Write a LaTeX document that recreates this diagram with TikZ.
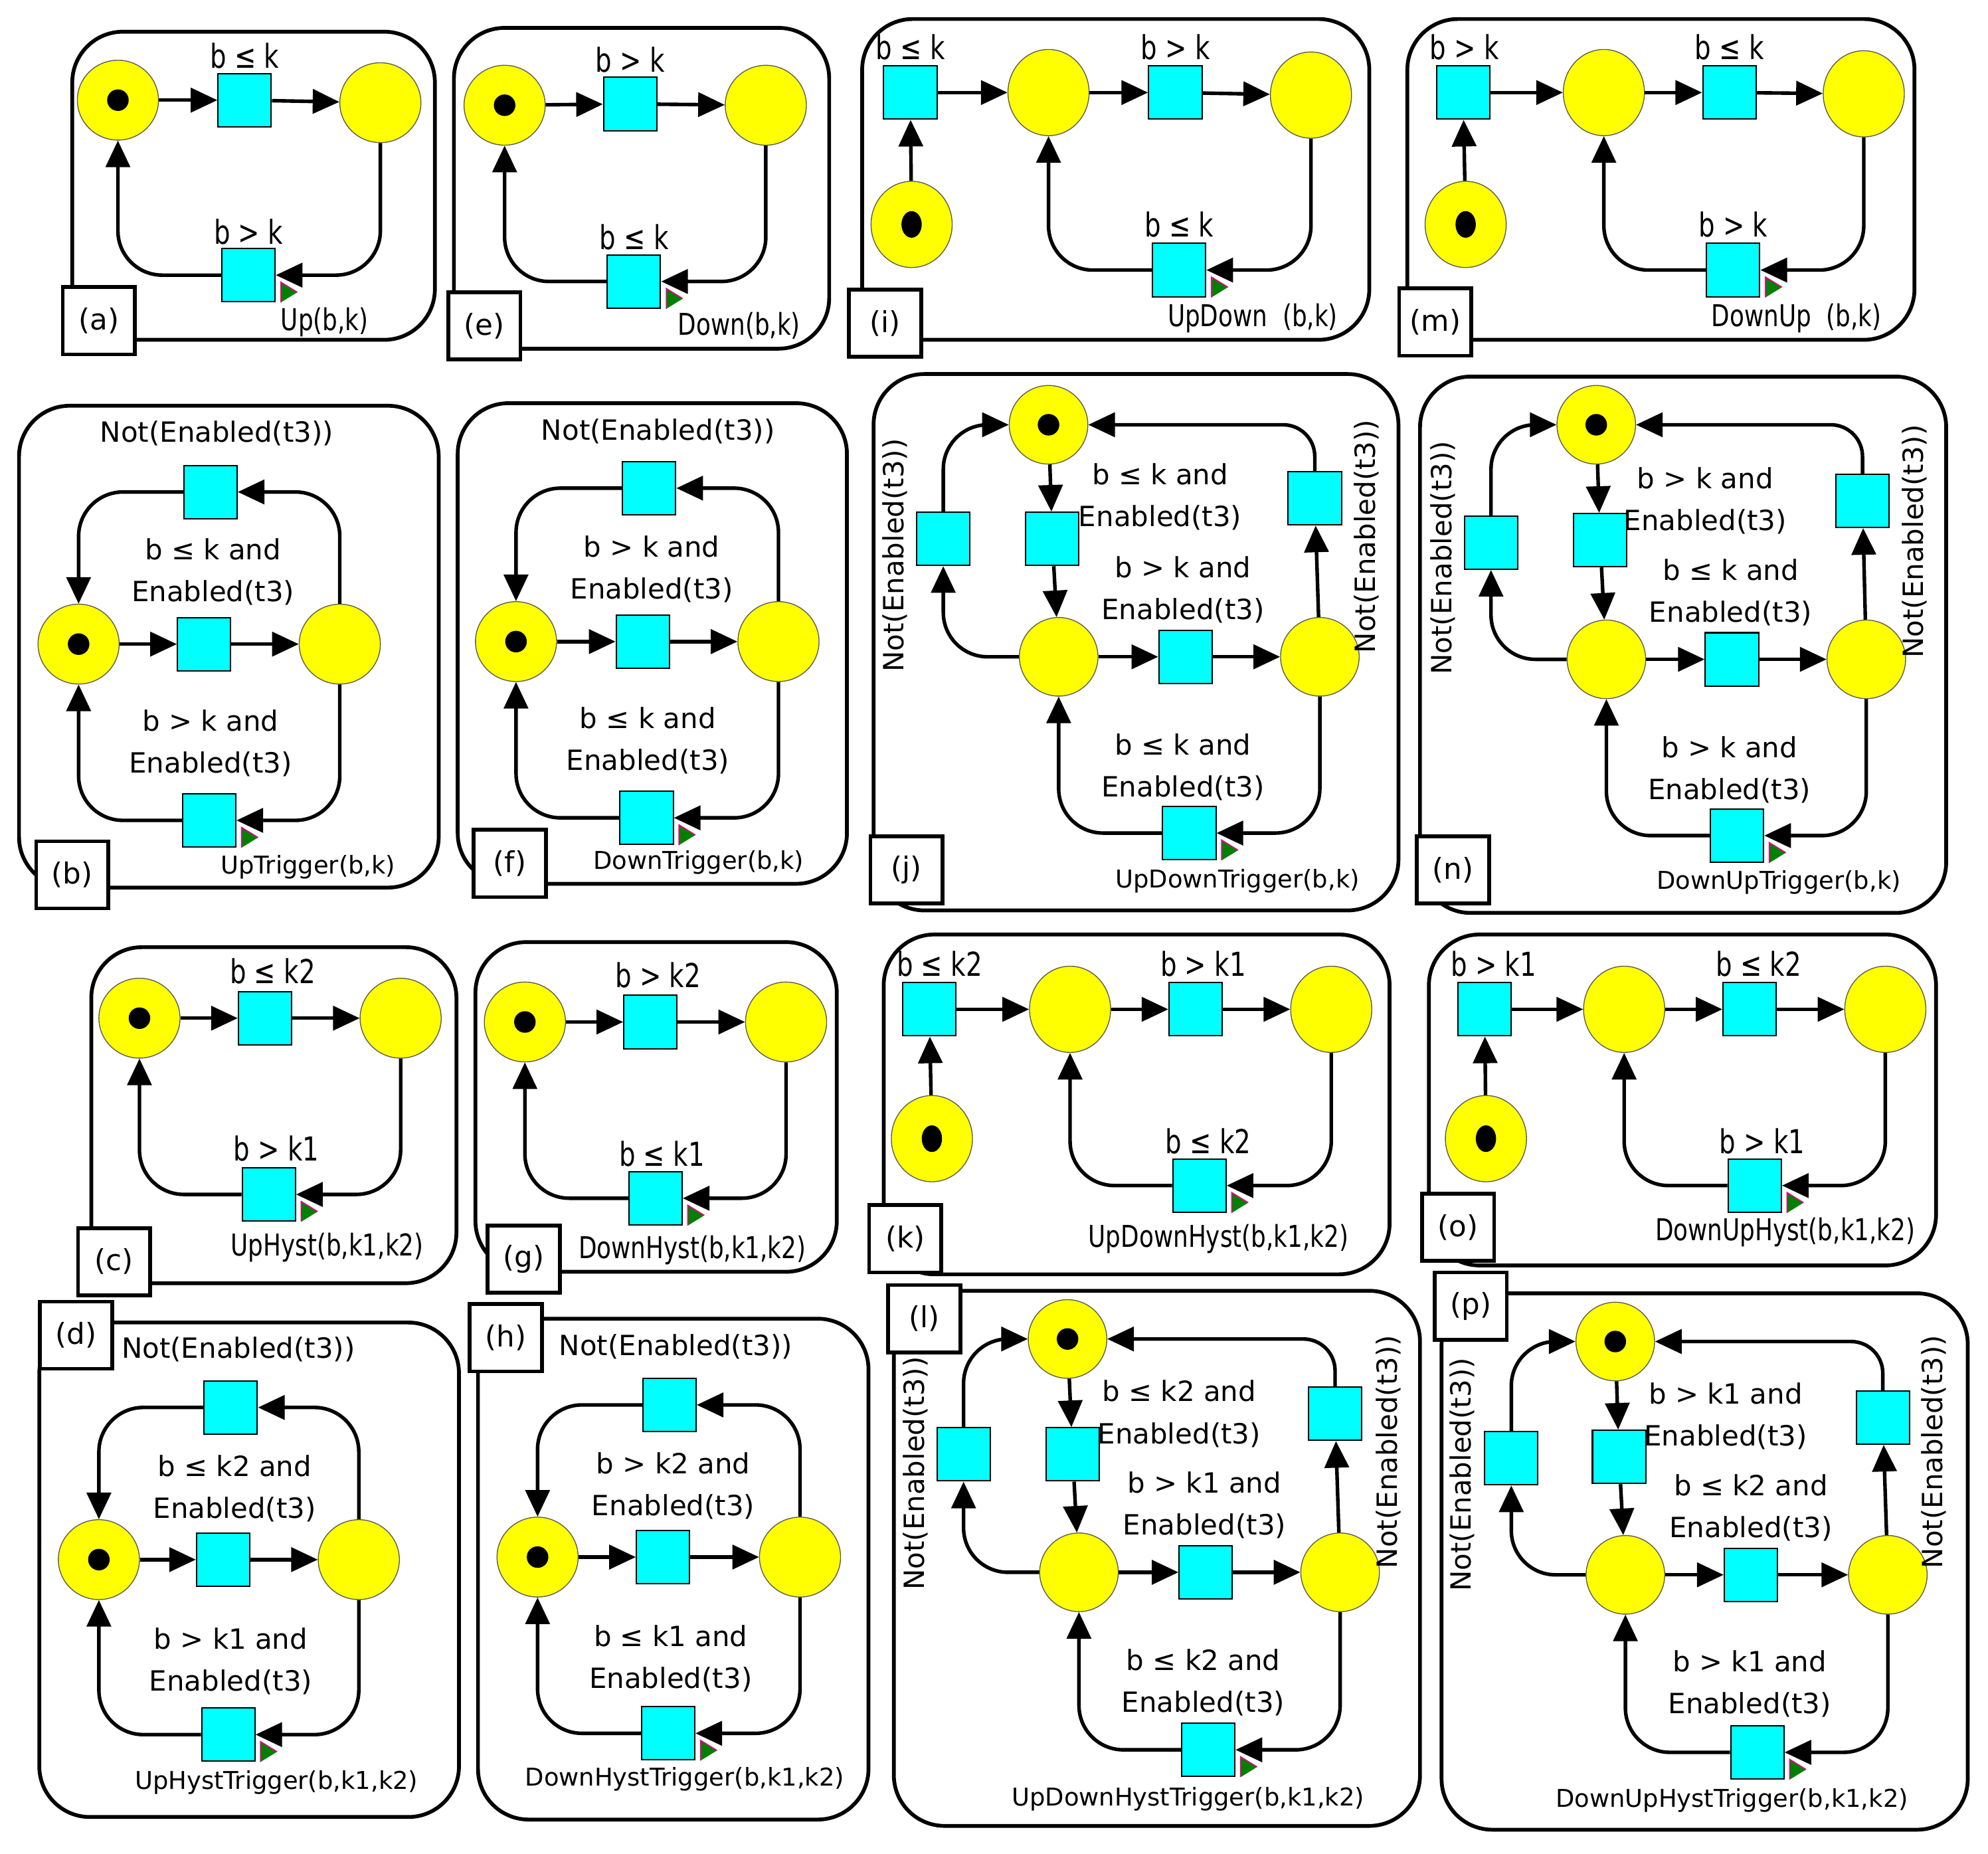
\documentclass[tikz,border=0pt]{standalone}
\usepackage{fontspec}
\setmainfont{DejaVu Sans}
\newfontfamily\fS[FakeStretch=0.78]{DejaVu Sans}
\newfontfamily\fN[FakeStretch=0.79]{DejaVu Sans}
\newfontfamily\fT{DejaVu Sans}
\usetikzlibrary{arrows.meta,shapes.geometric,calc}
\definecolor{pyel}{RGB}{255,255,0}
\definecolor{pcyan}{RGB}{0,255,255}
\definecolor{mgreen}{RGB}{0,128,0}
\tikzset{
  place/.style={ellipse, draw=black!65, line width=0.4pt, fill=pyel, minimum width=1.28cm, minimum height=1.26cm, inner sep=0pt},
  tplace/.style={place, minimum height=1.36cm},
  cplace/.style={place, minimum width=1.24cm, minimum height=1.24cm},
  tok/.style={circle, fill=black, minimum size=0.34cm, inner sep=0pt},
  etok/.style={ellipse, fill=black, minimum width=0.32cm, minimum height=0.42cm, inner sep=0pt},
  trans/.style={rectangle, draw=black, line width=0.6pt, fill=pcyan, minimum width=0.84cm, minimum height=0.84cm, inner sep=0pt},
  arc/.style={line width=1.6pt, -{Triangle[length=0.42cm,width=0.38cm]}, rounded corners=0.7cm},
  frame/.style={line width=1.7pt, rounded corners=0.8cm},
  lbox/.style={draw, line width=1.7pt, fill=white, minimum width=1.14cm, minimum height=1.06cm, inner sep=0pt, font=\fT\fontsize{13}{15}\selectfont},
  condS/.style={font=\fS\fontsize{14.8}{17}\selectfont, inner sep=0pt},
  nameS/.style={font=\fN\fontsize{13.5}{15}\selectfont, inner sep=0pt},
  condT/.style={font=\fT\fontsize{12.5}{18.8}\selectfont, align=center, inner sep=0pt},
  nameT/.style={font=\fT\fontsize{11}{13}\selectfont, inner sep=0pt},
}
\newcommand\mk[1]{%
  \fill[mgreen] ([shift={(4,-16)}]#1.south east) -- ([shift={(4,0)}]#1.south east) -- ([shift={(17,-8)}]#1.south east) -- cycle;
  \draw[magenta, line width=0.5pt] ([shift={(4,0)}]#1.south east) -- ([shift={(4,-16)}]#1.south east) -- ([shift={(17,-8)}]#1.south east);}
\newcommand\netS[1]{%
  \draw[arc] (#1p1) -- (#1t1);
  \draw[arc] (#1t1) -- (#1p2);
  \draw[arc] (#1p2.south) |- (#1t2.east);
  \draw[arc] (#1t2.west) -| (#1p1.south);
  \mk{#1t2}}
\newcommand\netU[1]{%
  \draw[arc] (#1p0) -- (#1t0);
  \draw[arc] (#1t0) -- (#1p1);
  \draw[arc] (#1p1) -- (#1t1);
  \draw[arc] (#1t1) -- (#1p2);
  \draw[arc] (#1p2.south) |- (#1t2.east);
  \draw[arc] (#1t2.west) -| (#1p1.south);
  \mk{#1t2}}
\newcommand\netT[1]{%
  \draw[arc] (#1p1) -- (#1tm);
  \draw[arc] (#1tm) -- (#1p2);
  \draw[arc] (#1p2.north) |- (#1tt.east);
  \draw[arc] (#1tt.west) -| (#1p1.north);
  \draw[arc] (#1p2.south) |- (#1tb.east);
  \draw[arc] (#1tb.west) -| (#1p1.south);
  \mk{#1tb}}
\newcommand\netUT[1]{%
  \draw[arc] (#1p0) -- (#1ta);
  \draw[arc] (#1ta) -- (#1pl);
  \draw[arc] (#1pl) -- (#1tm);
  \draw[arc] (#1tm) -- (#1pr);
  \draw[arc] (#1pr) -- (#1tr);
  \draw[arc, rounded corners=0.5cm] (#1tr.north) |- (#1p0.east);
  \draw[arc] (#1pl.west) -| (#1tl.south);
  \draw[arc] (#1tl.north) |- (#1p0.west);
  \draw[arc] (#1pr.south) |- (#1tb.east);
  \draw[arc] (#1tb.west) -| (#1pl.south);
  \mk{#1tb}}
\begin{document}
\begin{tikzpicture}[x=0.02cm,y=-0.02cm]
\useasboundingbox (0,0) rectangle (1568,1462);
\fill[white] (0,0) rectangle (1568,1462);
% ---------------- (a)
\draw[frame] (57,25) rectangle (343,268);
\node[lbox] (alab) at (78,253) {(a)};
\node[place] (ap1) at (93,79) {}; \node[tok] (ak) at (ap1) {};
\node[trans] (at1) at (193,79) {};
\node[place] (ap2) at (300,81) {};
\node[trans] (at2) at (196,217) {};
\netS{a}
\node[condS] (ac1) at (193,44) {b ≤ k};
\node[condS] (ac2) at (196,183) {b > k};
\node[nameS] (an) at (256,254) {Up(b,k)};
% ---------------- (e)
\draw[frame] (358,22) rectangle (654,275);
\node[lbox] (elab) at (382,257) {(e)};
\node[place] (ep1) at (398,83) {}; \node[tok] (ek) at (ep1) {};
\node[trans] (et1) at (497,82) {};
\node[place] (ep2) at (604,83) {};
\node[trans] (et2) at (500,222) {};
\netS{e}
\node[condS] (ec1) at (497,47) {b > k};
\node[condS] (ec2) at (500,187) {b ≤ k};
\node[nameS] (en) at (583,257) {Down(b,k)};
% ---------------- (i)
\draw[frame] (680,15) rectangle (1080,268);
\node[lbox] (ilab) at (698,255) {(i)};
\node[trans] (it0) at (718,73) {};
\node[tplace] (ip0) at (719,177) {}; \node[etok] (ik) at (ip0) {};
\node[tplace] (ip1) at (827,73) {};
\node[trans] (it1) at (927,73) {};
\node[tplace] (ip2) at (1034,75) {};
\node[trans] (it2) at (930,213) {};
\netU{i}
\node[condS] (ic0) at (718,37) {b ≤ k};
\node[condS] (ic1) at (927,37) {b > k};
\node[condS] (ic2) at (930,177) {b ≤ k};
\node[nameS] (in) at (988,251) {UpDown\ \ (b,k)};
% ---------------- (m)
\draw[frame] (1110,15) rectangle (1510,268);
\node[lbox] (mlab) at (1132,254) {(m)};
\node[trans] (mt0) at (1154,73) {};
\node[tplace] (mp0) at (1156,177) {}; \node[etok] (mk) at (mp0) {};
\node[tplace] (mp1) at (1265,73) {};
\node[trans] (mt1) at (1364,73) {};
\node[tplace] (mp2) at (1470,74) {};
\node[trans] (mt2) at (1367,213) {};
\netU{m}
\node[condS] (mc0) at (1155,37) {b > k};
\node[condS] (mc1) at (1364,37) {b ≤ k};
\node[condS] (mc2) at (1367,177) {b > k};
\node[nameS] (mn) at (1417,251) {DownUp\ \ (b,k)};
% ---------------- (b)
\draw[frame] (15,320) rectangle (346,700);
\node[lbox] (blab) at (57,690) {(b)};
\node[place] (bp1) at (62,508) {}; \node[tok] (bk) at (bp1) {};
\node[trans] (btm) at (161,508) {};
\node[place] (bp2) at (268,508) {};
\node[trans] (btt) at (166,388) {};
\node[trans] (btb) at (165,647) {};
\netT{b}
\node[condT] (bc0) at (171,342) {Not(Enabled(t3))};
\node[condT] (bc1) at (168,451) {b ≤ k and\\Enabled(t3)};
\node[condT] (bc2) at (166,586) {b > k and\\Enabled(t3)};
\node[nameT] (bn) at (243,684) {UpTrigger(b,k)};
% ---------------- (f)
\draw[frame] (361,318) rectangle (668,697);
\node[lbox] (flab) at (402,681) {(f)};
\node[place] (fp1) at (407,506) {}; \node[tok] (fk) at (fp1) {};
\node[trans] (ftm) at (507,506) {};
\node[place] (fp2) at (614,506) {};
\node[trans] (ftt) at (512,385) {};
\node[trans] (ftb) at (510,645) {};
\netT{f}
\node[condT] (fc0) at (519,340) {Not(Enabled(t3))};
\node[condT] (fc1) at (514,449) {b > k and\\Enabled(t3)};
\node[condT] (fc2) at (511,584) {b ≤ k and\\Enabled(t3)};
\node[nameT] (fn) at (551,680) {DownTrigger(b,k)};
% ---------------- (j)
\draw[frame] (689,295) rectangle (1103,718);
\node[lbox] (jlab) at (715,686) {(j)};
\node[cplace] (jp0) at (827,335) {}; \node[tok] (jk) at (jp0) {};
\node[trans] (jta) at (830,425) {};
\node[cplace] (jpl) at (835,518) {};
\node[trans] (jtm) at (935,518) {};
\node[cplace] (jpr) at (1041,518) {};
\node[trans] (jtr) at (1037,393) {};
\node[trans] (jtl) at (744,425) {};
\node[trans] (jtb) at (938,657) {};
\netUT{j}
\node[condT, rotate=90] (jr1) at (706,438) {Not(Enabled(t3))};
\node[condT, rotate=90] (jr2) at (1078,423) {Not(Enabled(t3))};
\node[condT] (jc1) at (915,392) {b ≤ k and\\Enabled(t3)};
\node[condT] (jc2) at (933,465) {b > k and\\Enabled(t3)};
\node[condT] (jc3) at (933,605) {b ≤ k and\\Enabled(t3)};
\node[nameT] (jn) at (976,695) {UpDownTrigger(b,k)};
% ---------------- (n)
\draw[frame] (1120,297) rectangle (1535,720);
\node[lbox] (nlab) at (1146,686) {(n)};
\node[cplace] (np0) at (1259,335) {}; \node[tok] (nk) at (np0) {};
\node[trans] (nta) at (1262,426) {};
\node[cplace] (npl) at (1267,520) {};
\node[trans] (ntm) at (1366,520) {};
\node[cplace] (npr) at (1472,520) {};
\node[trans] (ntr) at (1469,395) {};
\node[trans] (ntl) at (1176,428) {};
\node[trans] (ntb) at (1370,659) {};
\netUT{n}
\node[condT, rotate=90] (nr1) at (1138,440) {Not(Enabled(t3))};
\node[condT, rotate=90] (nr2) at (1510,427) {Not(Enabled(t3))};
\node[condT] (nc1) at (1345,395) {b > k and\\Enabled(t3)};
\node[condT] (nc2) at (1365,467) {b ≤ k and\\Enabled(t3)};
\node[condT] (nc3) at (1364,607) {b > k and\\Enabled(t3)};
\node[nameT] (nn) at (1403,696) {DownUpTrigger(b,k)};
% ---------------- (c)
\draw[frame] (72,747) rectangle (360,1012);
\node[lbox] (clab) at (90,995) {(c)};
\node[place] (cp1) at (110,803) {}; \node[tok] (ck) at (cp1) {};
\node[trans] (ct1) at (209,803) {};
\node[place] (cp2) at (316,803) {};
\node[trans] (ct2) at (212,942) {};
\netS{c}
\node[condS] (cc1) at (215,766) {b ≤ k2};
\node[condS] (cc2) at (218,906) {b > k1};
\node[nameS] (cn) at (258,984) {UpHyst(b,k1,k2)};
% ---------------- (g)
\draw[frame] (375,743) rectangle (660,1003);
\node[lbox] (glab) at (413,993) {(g)};
\node[place] (gp1) at (414,806) {}; \node[tok] (gk) at (gp1) {};
\node[trans] (gt1) at (513,806) {};
\node[place] (gp2) at (620,806) {};
\node[trans] (gt2) at (517,945) {};
\netS{g}
\node[condS] (gc1) at (519,769) {b > k2};
\node[condS] (gc2) at (522,910) {b ≤ k1};
\node[nameS] (gn) at (546,986) {DownHyst(b,k1,k2)};
% ---------------- (k)
\draw[frame] (697,737) rectangle (1096,1005);
\node[lbox] (klab) at (714,977) {(k)};
\node[trans] (kt0) at (733,796) {};
\node[tplace] (kp0) at (735,898) {}; \node[etok] (kk) at (kp0) {};
\node[tplace] (kp1) at (844,796) {};
\node[trans] (kt1) at (943,796) {};
\node[tplace] (kp2) at (1050,796) {};
\node[trans] (kt2) at (946,935) {};
\netU{k}
\node[condS] (kc0) at (741,760) {b ≤ k2};
\node[condS] (kc1) at (949,760) {b > k1};
\node[condS] (kc2) at (953,900) {b ≤ k2};
\node[nameS] (kn) at (961,977) {UpDownHyst(b,k1,k2)};
% ---------------- (o)
\draw[frame] (1127,737) rectangle (1527,998);
\node[lbox] (olab) at (1150,968) {(o)};
\node[trans] (ot0) at (1171,796) {};
\node[tplace] (op0) at (1172,898) {}; \node[etok] (ok) at (op0) {};
\node[tplace] (op1) at (1281,796) {};
\node[trans] (ot1) at (1380,796) {};
\node[tplace] (op2) at (1487,796) {};
\node[trans] (ot2) at (1384,935) {};
\netU{o}
\node[condS] (oc0) at (1178,760) {b > k1};
\node[condS] (oc1) at (1387,760) {b ≤ k2};
\node[condS] (oc2) at (1390,900) {b > k1};
\node[nameS] (on) at (1408,972) {DownUpHyst(b,k1,k2)};
% ---------------- (d)
\draw[frame] (31,1043) rectangle (362,1433);
\node[lbox] (dlab) at (60,1053) {(d)};
\node[place] (dp1) at (78,1230) {}; \node[tok] (dk) at (dp1) {};
\node[trans] (dtm) at (176,1230) {};
\node[place] (dp2) at (283,1230) {};
\node[trans] (dtt) at (182,1110) {};
\node[trans] (dtb) at (180,1368) {};
\netT{d}
\node[condT] (dc0) at (188,1064) {Not(Enabled(t3))};
\node[condT] (dc1) at (185,1174) {b ≤ k2 and\\Enabled(t3)};
\node[condT] (dc2) at (182,1310) {b > k1 and\\Enabled(t3)};
\node[nameT] (dn) at (218,1406) {UpHystTrigger(b,k1,k2)};
% ---------------- (h)
\draw[frame] (377,1040) rectangle (685,1435);
\node[lbox] (hlab) at (399,1055) {(h)};
\node[place] (hp1) at (424,1228) {}; \node[tok] (hk) at (hp1) {};
\node[trans] (htm) at (523,1228) {};
\node[place] (hp2) at (631,1228) {};
\node[trans] (htt) at (528,1108) {};
\node[trans] (htb) at (527,1367) {};
\netT{h}
\node[condT] (hc0) at (533,1062) {Not(Enabled(t3))};
\node[condT] (hc1) at (531,1172) {b > k2 and\\Enabled(t3)};
\node[condT] (hc2) at (529,1308) {b ≤ k1 and\\Enabled(t3)};
\node[nameT] (hn) at (540,1403) {DownHystTrigger(b,k1,k2)};
% ---------------- (l)
\draw[frame] (705,1018) rectangle (1120,1440);
\node[lbox] (llab) at (729,1040) {(l)};
\node[cplace] (lp0) at (842,1056) {}; \node[tok] (lk) at (lp0) {};
\node[trans] (lta) at (846,1147) {};
\node[cplace] (lpl) at (851,1240) {};
\node[trans] (ltm) at (951,1240) {};
\node[cplace] (lpr) at (1057,1240) {};
\node[trans] (ltr) at (1053,1115) {};
\node[trans] (ltl) at (760,1147) {};
\node[trans] (ltb) at (953,1380) {};
\netUT{l}
\node[condT, rotate=90] (lr1) at (722,1162) {Not(Enabled(t3))};
\node[condT, rotate=90] (lr2) at (1095,1145) {Not(Enabled(t3))};
\node[condT] (lc1) at (930,1115) {b ≤ k2 and\\Enabled(t3)};
\node[condT] (lc2) at (950,1187) {b > k1 and\\Enabled(t3)};
\node[condT] (lc3) at (949,1327) {b ≤ k2 and\\Enabled(t3)};
\node[nameT] (ln) at (937,1419) {UpDownHystTrigger(b,k1,k2)};
% ---------------- (p)
\draw[frame] (1137,1020) rectangle (1552,1443);
\node[lbox] (plab) at (1160,1030) {(p)};
\node[cplace] (pp0) at (1274,1058) {}; \node[tok] (pk) at (pp0) {};
\node[trans] (pta) at (1277,1149) {};
\node[cplace] (ppl) at (1282,1242) {};
\node[trans] (ptm) at (1381,1242) {};
\node[cplace] (ppr) at (1489,1242) {};
\node[trans] (ptr) at (1485,1118) {};
\node[trans] (ptl) at (1192,1150) {};
\node[trans] (ptb) at (1386,1382) {};
\netUT{p}
\node[condT, rotate=90] (pr1) at (1153,1163) {Not(Enabled(t3))};
\node[condT, rotate=90] (pr2) at (1525,1145) {Not(Enabled(t3))};
\node[condT] (pc1) at (1361,1117) {b > k1 and\\Enabled(t3)};
\node[condT] (pc2) at (1381,1189) {b ≤ k2 and\\Enabled(t3)};
\node[condT] (pc3) at (1380,1328) {b > k1 and\\Enabled(t3)};
\node[nameT] (pn) at (1366,1420) {DownUpHystTrigger(b,k1,k2)};
\end{tikzpicture}
\end{document}
